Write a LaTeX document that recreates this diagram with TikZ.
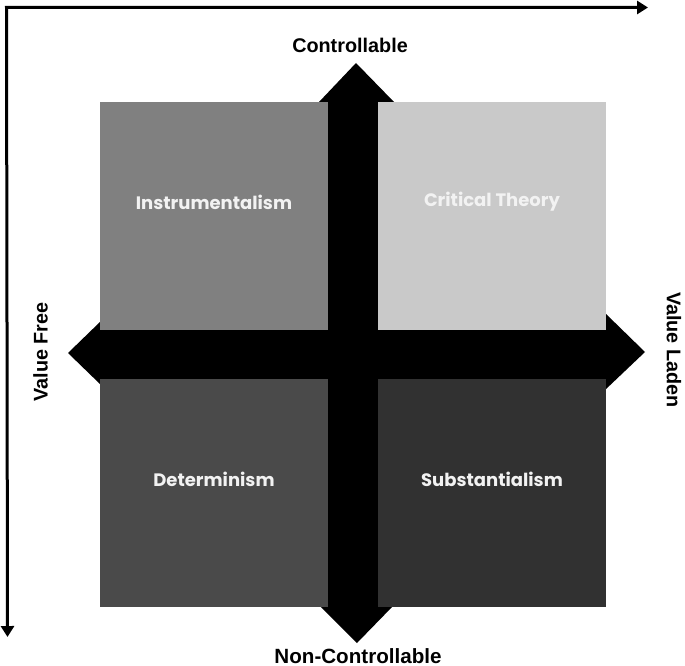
\documentclass[tikz,border=0pt]{standalone}
\usepackage{fontspec}
\setmainfont{Poppins}
\newfontfamily\axisfont{Liberation Sans}
\usetikzlibrary{arrows.meta}
\definecolor{instr}{HTML}{808080}
\definecolor{crit}{HTML}{C9C9C9}
\definecolor{deter}{HTML}{4A4A4A}
\definecolor{subst}{HTML}{313131}
\definecolor{qtext}{HTML}{F2F2F2}
\begin{document}
\begin{tikzpicture}[x=1pt,y=-1pt,
  quad/.style={minimum width=228pt,minimum height=228pt,inner sep=0pt,anchor=north west,draw=none},
  qlabel/.style={text=qtext,font=\bfseries\fontsize{18}{21}\selectfont,inner sep=0pt},
  axislabel/.style={font=\axisfont\bfseries\fontsize{19.8}{23}\selectfont,inner sep=0pt},
  axisline/.style={line width=3pt,line join=miter,{Triangle[width=13pt,length=11pt]}-{Triangle[width=13pt,length=11pt]}}]
\useasboundingbox (0,0) rectangle (685,666);
% outer axes
\coordinate (corner) at (6.5,7.5);
\coordinate (xend) at (648,7.5);
\coordinate (yend) at (7.5,637);
\draw[axisline] (xend) -- (corner) -- (yend);
% central cross with four arrowheads
\fill[black] (356,63) -- (394,102) -- (378,102) -- (378,330) -- (605,330) -- (605,313)
  -- (645,352) -- (605,390) -- (605,379) -- (378,379) -- (378,606) -- (393,606)
  -- (357,643) -- (320,606) -- (328,606) -- (328,379) -- (101,379) -- (101,385)
  -- (68,353) -- (101,321) -- (101,330) -- (328,330) -- (328,102) -- (319,102) -- cycle;
% quadrants
\node[quad,fill=instr] (instrumentalism) at (100,102) {};
\node[quad,fill=crit] (critical) at (378,102) {};
\node[quad,fill=deter] (determinism) at (100,379) {};
\node[quad,fill=subst] (substantialism) at (378,379) {};
\node[qlabel] (tinstr) at (214,202) {Instrumentalism};
\node[qlabel] (tcrit) at (492,202) {Critical Theory};
\node[qlabel] (tdeter) at (214,479) {Determinism};
\node[qlabel] (tsubst) at (492,479) {Substantialism};
% axis labels
\node[axislabel,anchor=base] (controllable) at (350,53) {Controllable};
\node[axislabel,anchor=base,font=\axisfont\bfseries\fontsize{20.6}{24}\selectfont] (noncontrollable) at (358,663) {Non-Controllable};
\node[axislabel,rotate=90] (valuefree) at (40.5,352) {Value Free};
\node[axislabel,rotate=-90] (valueladen) at (674,350) {Value Laden};
\end{tikzpicture}
\end{document}
